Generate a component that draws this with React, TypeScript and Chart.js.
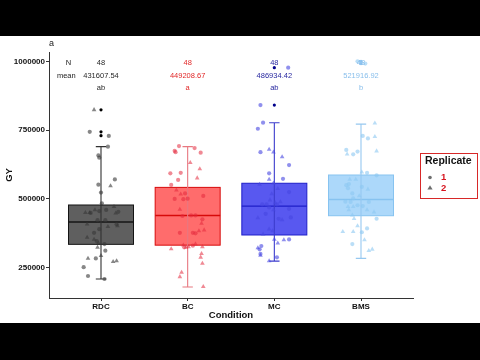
import React, { useEffect, useRef } from 'react';
import { Chart, registerables } from 'chart.js';
Chart.register(...registerables);

const categories = ['RDC', 'BC', 'MC', 'BMS'];
const yTickValues = [250000, 500000, 750000, 1000000];
const yTickLabels = ['250000', '500000', '750000', '1000000'];
const nCounts = ['48', '48', '48', '48'];
const meanLabels = ['431607.54', '449208.67', '486934.42', '521916.92'];
const letterLabels = ['ab', 'a', 'ab', 'b'];

// box statistics per condition
const q1 = [335000, 332000, 369000, 439000];
const medians = [416000, 440000, 474000, 498000];
const q3 = [478000, 542000, 557000, 587000];
const whiskerLow = [209000, 180000, 274000, 284000];
const whiskerHigh = [690000, 690000, 777000, 772000];
const outliers = [[824000, 744000, 730000], [], [841000, 977000], [1000000, 992000]];

// jittered observations: [x offset (category units), GY, replicate]
const rdcPoints = [
  [-0.08, 824000, 2], [-0.13, 744000, 1], [0.09, 729000, 1], [0.08, 690000, 1], [-0.03, 658000, 1],
  [-0.02, 650000, 1], [0.16, 571000, 1], [-0.03, 552000, 1], [0.11, 547000, 2], [0.0, 523000, 1],
  [0.01, 484000, 1], [0.15, 472000, 2], [0.06, 460000, 1], [-0.18, 450000, 2], [-0.13, 450000, 2],
  [-0.12, 449000, 1], [-0.02, 456000, 1], [0.17, 448000, 2], [0.2, 453000, 1], [-0.16, 408000, 2],
  [-0.04, 423000, 1], [0.05, 423000, 1], [0.08, 399000, 2], [0.18, 408000, 1], [0.19, 402000, 2],
  [-0.02, 390000, 1], [-0.08, 377000, 1], [-0.16, 360000, 2], [-0.08, 353000, 2], [-0.05, 347000, 1],
  [-0.03, 339000, 2], [0.04, 336000, 1], [-0.04, 324000, 2], [0.05, 312000, 1], [-0.15, 284000, 2],
  [-0.06, 284000, 1], [0.0, 294000, 2], [0.14, 272000, 2], [0.18, 275000, 2], [-0.2, 252000, 1],
  [-0.15, 220000, 1], [0.04, 209000, 1], [-0.07, 460000, 2],
];
const bcPoints = [
  [-0.1, 692000, 1], [0.08, 685000, 1], [-0.15, 675000, 1], [-0.14, 670000, 1], [0.15, 668000, 1],
  [0.03, 632000, 2], [0.14, 609000, 2], [-0.2, 593000, 1], [-0.08, 595000, 1], [0.11, 576000, 2],
  [-0.11, 569000, 1], [-0.19, 551000, 1], [-0.13, 532000, 2], [-0.03, 520000, 1], [-0.08, 517000, 2],
  [0.18, 511000, 1], [-0.15, 500000, 1], [-0.05, 499000, 1], [0.0, 501000, 1], [-0.09, 462000, 2],
  [-0.06, 438000, 1], [0.04, 440000, 1], [0.09, 440000, 1], [0.17, 426000, 1], [0.16, 411000, 2],
  [-0.09, 377000, 1], [0.06, 377000, 1], [0.09, 375000, 1], [0.13, 384000, 2], [0.19, 387000, 2],
  [-0.19, 318000, 2], [-0.05, 332000, 2], [0.01, 326000, 2], [0.06, 330000, 1], [0.09, 336000, 2],
  [0.17, 326000, 2], [0.16, 301000, 2], [0.15, 288000, 2], [0.17, 266000, 2], [-0.07, 233000, 2],
  [-0.09, 217000, 2], [0.18, 181000, 2], [-0.04, 324000, 1], [-0.02, 324000, 2],
];
const mcPoints = [
  [-0.16, 841000, 1], [0.16, 977000, 1], [-0.13, 777000, 1], [-0.19, 755000, 1], [-0.16, 670000, 1],
  [-0.06, 680000, 2], [-0.01, 670000, 2], [0.09, 653000, 2], [0.17, 623000, 1], [-0.06, 593000, 1],
  [-0.06, 571000, 2], [0.1, 573000, 1], [-0.17, 553000, 2], [-0.01, 557000, 2], [0.04, 537000, 2],
  [0.17, 525000, 1], [-0.03, 518000, 2], [-0.05, 496000, 2], [0.01, 486000, 2], [0.07, 489000, 2],
  [-0.14, 480000, 1], [-0.09, 480000, 1], [-0.06, 469000, 1], [0.03, 480000, 1], [-0.01, 460000, 2],
  [0.17, 464000, 1], [-0.19, 431000, 2], [-0.1, 446000, 1], [0.05, 428000, 1], [0.09, 424000, 2],
  [0.19, 433000, 1], [-0.06, 390000, 2], [-0.02, 384000, 2], [-0.13, 372000, 2], [0.0, 353000, 2],
  [0.04, 339000, 2], [0.11, 351000, 2], [0.17, 353000, 1], [-0.15, 329000, 1], [-0.19, 322000, 2],
  [-0.17, 317000, 1], [-0.16, 300000, 1], [-0.16, 295000, 2], [0.03, 288000, 1], [-0.06, 275000, 2],
];
const bmsPoints = [
  [0.16, 775000, 2], [0.02, 729000, 1], [0.08, 720000, 1], [0.16, 726000, 2], [-0.17, 678000, 1],
  [-0.04, 672000, 1], [-0.09, 662000, 1], [-0.16, 663000, 2], [0.18, 674000, 2], [0.01, 597000, 2],
  [0.07, 595000, 1], [0.18, 586000, 1], [-0.13, 571000, 2], [-0.06, 571000, 2], [-0.17, 550000, 1],
  [-0.14, 554000, 1], [-0.15, 539000, 1], [0.01, 544000, 1], [0.08, 535000, 2], [-0.1, 520000, 1],
  [-0.09, 502000, 1], [-0.02, 511000, 2], [-0.18, 490000, 1], [-0.12, 489000, 1], [-0.15, 472000, 2],
  [-0.09, 472000, 2], [-0.04, 477000, 1], [0.09, 489000, 1], [0.02, 474000, 1], [0.07, 460000, 2],
  [-0.14, 460000, 2], [0.15, 452000, 2], [-0.1, 441000, 2], [-0.08, 428000, 2], [0.18, 428000, 1],
  [-0.04, 402000, 2], [0.07, 393000, 1], [-0.21, 381000, 2], [-0.09, 381000, 2], [0.01, 379000, 1],
  [-0.1, 336000, 1], [0.04, 351000, 2], [0.09, 312000, 2], [0.13, 317000, 2], [-0.04, 1000000, 1],
  [0.05, 992000, 1],
];
const groupPoints = [rdcPoints, bcPoints, mcPoints, bmsPoints];
const replicateLabels = ['1', '2'];

// styles
const boxFill = ['rgb(95,95,95)', 'rgb(255,108,108)', 'rgb(88,88,240)', 'rgb(172,216,250)'];
const boxLine = ['rgb(20,20,20)', 'rgb(215,10,10)', 'rgb(30,30,200)', 'rgb(135,195,240)'];
const whiskerColor = ['rgb(50,50,50)', 'rgb(232,120,128)', 'rgb(60,60,205)', 'rgb(150,200,240)'];
const pointColor = ['rgba(55,55,55,0.6)', 'rgba(228,40,60,0.55)', 'rgba(70,70,225,0.6)', 'rgba(140,200,242,0.6)'];
const outlierColor = ['rgb(0,0,0)', 'rgb(200,0,0)', 'rgb(0,0,140)', 'rgb(140,195,240)'];
const textColor = ['rgb(40,40,40)', 'rgb(225,40,40)', 'rgb(40,40,160)', 'rgb(135,190,235)'];
const FONT = '"Liberation Sans", Arial, sans-serif';

const drawPlugin = {
  id: 'customDraw',
  beforeDraw(chart: any) {
    const { ctx, width, height } = chart;
    ctx.save();
    ctx.fillStyle = '#000';
    ctx.fillRect(0, 0, width, height);
    ctx.fillStyle = '#fff';
    ctx.fillRect(0, 36, width, 287);
    ctx.restore();
  },
  beforeDatasetsDraw(chart: any) {
    const { ctx } = chart;
    const x = chart.scales.x;
    const y = chart.scales.y;
    ctx.save();
    categories.forEach((_c, i) => {
      const cx = x.getPixelForValue(i + 1);
      const half = x.getPixelForValue(i + 1.375) - cx;
      const cap = x.getPixelForValue(i + 1.06) - cx;
      const yq1 = y.getPixelForValue(q1[i]);
      const yq3 = y.getPixelForValue(q3[i]);
      const ymed = y.getPixelForValue(medians[i]);
      const ylo = y.getPixelForValue(whiskerLow[i]);
      const yhi = y.getPixelForValue(whiskerHigh[i]);
      ctx.fillStyle = boxFill[i];
      ctx.fillRect(cx - half, yq3, half * 2, yq1 - yq3);
      ctx.strokeStyle = boxLine[i];
      ctx.lineWidth = 1;
      ctx.strokeRect(cx - half, yq3, half * 2, yq1 - yq3);
      ctx.lineWidth = 1.4;
      ctx.beginPath();
      ctx.moveTo(cx - half, ymed);
      ctx.lineTo(cx + half, ymed);
      ctx.stroke();
      ctx.strokeStyle = whiskerColor[i];
      ctx.lineWidth = 1.1;
      ctx.beginPath();
      ctx.moveTo(cx, ylo);
      ctx.lineTo(cx, yhi);
      ctx.moveTo(cx - cap, ylo);
      ctx.lineTo(cx + cap, ylo);
      ctx.moveTo(cx - cap, yhi);
      ctx.lineTo(cx + cap, yhi);
      ctx.stroke();
    });
    ctx.restore();
  },
  afterDraw(chart: any) {
    const { ctx } = chart;
    const x = chart.scales.x;
    const area = chart.chartArea;
    ctx.save();
    ctx.textBaseline = 'middle';
    ctx.textAlign = 'left';
    ctx.fillStyle = '#222';
    ctx.font = `9px ${FONT}`;
    ctx.fillText('a', 49, 44);
    // annotation rows
    ctx.textAlign = 'center';
    ctx.font = `7.5px ${FONT}`;
    const rowN = area.top + 11;
    const rowMean = area.top + 24;
    const rowLetter = area.top + 36;
    ctx.fillStyle = '#222';
    const labelX = x.getPixelForValue(0.6);
    ctx.fillText('N', labelX + 2, rowN);
    ctx.fillText('mean', labelX, rowMean);
    categories.forEach((_c, i) => {
      const cx = x.getPixelForValue(i + 1);
      ctx.fillStyle = textColor[i];
      ctx.fillText(nCounts[i], cx, rowN);
      ctx.fillText(meanLabels[i], cx, rowMean);
      ctx.fillText(letterLabels[i], cx, rowLetter);
    });
    // axis titles
    ctx.fillStyle = '#111';
    ctx.font = `bold 9.5px ${FONT}`;
    ctx.fillText('Condition', (area.left + area.right) / 2, 315);
    ctx.save();
    ctx.translate(9, (area.top + area.bottom) / 2);
    ctx.rotate(-Math.PI / 2);
    ctx.fillText('GY', 0, 0);
    ctx.restore();
    // legend
    ctx.strokeStyle = 'rgb(215,40,40)';
    ctx.lineWidth = 1;
    ctx.strokeRect(420.5, 153.5, 57, 45);
    ctx.textAlign = 'left';
    ctx.fillStyle = '#111';
    ctx.font = `bold 10.5px ${FONT}`;
    ctx.fillText('Replicate', 425, 161);
    ctx.fillStyle = 'rgba(60,60,60,0.75)';
    ctx.beginPath();
    ctx.arc(430, 177.5, 1.8, 0, Math.PI * 2);
    ctx.fill();
    ctx.beginPath();
    ctx.moveTo(430, 185.3);
    ctx.lineTo(432.6, 189.6);
    ctx.lineTo(427.4, 189.6);
    ctx.closePath();
    ctx.fill();
    ctx.fillStyle = 'rgb(215,20,30)';
    ctx.font = `bold 9.5px ${FONT}`;
    ctx.fillText(replicateLabels[0], 441, 177.8);
    ctx.fillText(replicateLabels[1], 441, 188.3);
    ctx.restore();
  },
};

export default function App() {
  const ref = useRef<HTMLCanvasElement | null>(null);
  useEffect(() => {
    if (!ref.current) return;
    const datasets: any[] = groupPoints.map((pts, i) => ({
      label: categories[i],
      data: pts.map((p) => ({ x: i + 1 + p[0], y: p[1] })),
      backgroundColor: pointColor[i],
      borderWidth: 0,
      pointStyle: pts.map((p) => (p[2] === 2 ? 'triangle' : 'circle')),
      pointRadius: pts.map((p) => (p[2] === 2 ? 2.7 : 2.1)),
    }));
    datasets.push({
      label: 'outliers',
      data: outliers.flatMap((vals, i) => vals.map((v) => ({ x: i + 1, y: v }))),
      backgroundColor: outliers.flatMap((vals, i) => vals.map(() => outlierColor[i])),
      borderWidth: 0,
      pointRadius: 1.6,
    });
    const chart = new Chart(ref.current, {
      type: 'scatter',
      data: { datasets },
      options: {
        animation: false,
        responsive: false,
        layout: { padding: { left: 0, top: 52, right: 67, bottom: 0 } },
        plugins: { legend: { display: false }, tooltip: { enabled: false } },
        scales: {
          x: {
            type: 'linear',
            min: 0.4,
            max: 4.6,
            afterFit: (s: any) => { s.height = 62; },
            afterBuildTicks: (s: any) => { s.ticks = categories.map((_c, i) => ({ value: i + 1 })); },
            ticks: {
              callback: (v: any) => categories[Math.round(Number(v)) - 1] ?? '',
              font: { family: FONT, size: 8, weight: 'bold' },
              color: '#111',
              padding: 1,
              maxRotation: 0,
              autoSkip: false,
            },
            grid: { drawOnChartArea: false, drawTicks: true, tickLength: 3, color: '#333' },
            border: { display: true, color: '#333', width: 1 },
          },
          y: {
            type: 'linear',
            min: 140000,
            max: 1034000,
            afterFit: (s: any) => { s.width = 49; },
            afterBuildTicks: (s: any) => { s.ticks = yTickValues.map((v) => ({ value: v })); },
            ticks: {
              callback: (v: any) => yTickLabels[yTickValues.indexOf(Number(v))] ?? '',
              font: { family: FONT, size: 8, weight: 'bold' },
              color: '#111',
              padding: 1,
              autoSkip: false,
            },
            grid: { drawOnChartArea: false, drawTicks: true, tickLength: 3, color: '#333' },
            border: { display: true, color: '#333', width: 1 },
          },
        },
      },
      plugins: [drawPlugin],
    } as any);
    return () => chart.destroy();
  }, []);
  return (
    <div style={{ position: 'absolute', left: 0, top: 0, width: 480, height: 360 }}>
      <canvas ref={ref} width={480} height={360} style={{ display: 'block' }} />
    </div>
  );
}
